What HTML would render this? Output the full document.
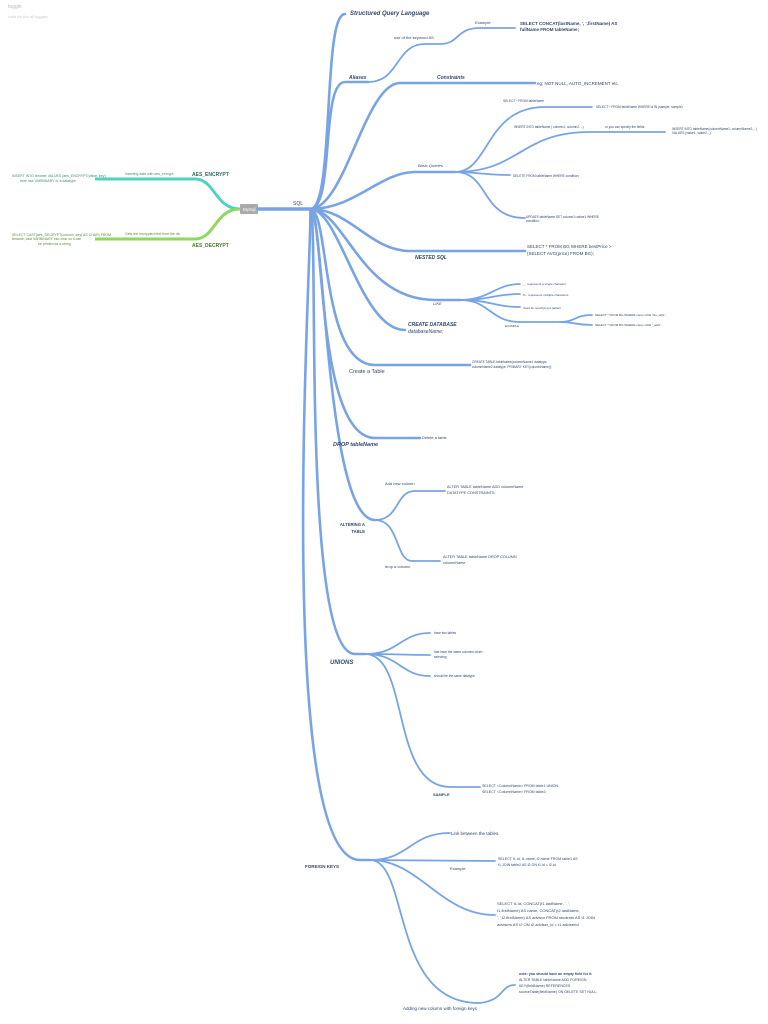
<!DOCTYPE html>
<html><head><meta charset="utf-8"><style>
html,body{margin:0;padding:0;background:#fff;}
svg{display:block;font-family:"Liberation Sans",sans-serif;}
.b{fill:none;stroke:#78a4e6;stroke-linecap:round;}
.t{fill:#34476e;}
.h{font-weight:bold;font-style:italic;}
</style></head><body>
<svg width="768" height="1024" viewBox="0 0 768 1024" xmlns="http://www.w3.org/2000/svg">
<text x="8" y="8" font-size="5" fill="#bbb">toggle</text>
<text x="8" y="18" font-size="4" fill="#ccc">Hold for the all toggles</text>

<!-- left green branches -->
<path d="M240 209 C215 209 215 179 195 179 L95 179" fill="none" stroke="#4fd3c0" stroke-width="3"/>
<path d="M240 209 C215 209 215 239 195 239 L95 239" fill="none" stroke="#8fd760" stroke-width="3"/>
<text x="192" y="176" font-size="5" font-weight="bold" fill="#2f6b5c">AES_ENCRYPT</text>
<text x="125" y="175" font-size="3.5" fill="#3f8a7a">Inserting data with aes_encrypt</text>
<text x="12" y="177" font-size="3.5" fill="#3f8a7a">INSERT INTO tbname VALUES (aes_ENCRYPT(value, key)</text>
<text x="20" y="182" font-size="3.5" fill="#3f8a7a">here use VARBINARY or a datatype</text>
<text x="192" y="247" font-size="5" font-weight="bold" fill="#4a7a2c">AES_DECRYPT</text>
<text x="125" y="235" font-size="3.5" fill="#5c8a3a">Gets the encrypted text from the db</text>
<text x="12" y="236" font-size="3.5" fill="#5c8a3a">SELECT CAST(aes_DECRYPT(column, key) AS CHAR) FROM</text>
<text x="12" y="240" font-size="3.5" fill="#5c8a3a">tbname; cast VARBINARY into char so it can</text>
<text x="38" y="245" font-size="3.5" fill="#5c8a3a">be printed as a string</text>

<!-- root -->
<rect x="240" y="204" width="18" height="10" fill="#aaa" rx="1"/>
<text x="243" y="211" font-size="4.5" fill="#fff">MySql</text>
<path class="b" d="M258 209 L310 209" stroke-width="3.5"/>
<text x="293" y="205" font-size="5" class="t">SQL</text>

<g class="b" stroke-width="2.6">
<path d="M310 209 C335 209 322 14 345 14"/>
<path d="M310 209 C335 209 320 82 345 82 L368 82"/>
<path d="M310 209 C345 209 365 83 400 83 L535 83"/>
<path d="M310 209 C355 209 380 172 415 172 L455 172"/>
<path d="M310 209 C350 209 370 251 410 251 L525 251"/>
<path d="M310 209 C345 209 360 300 435 300 L460 300"/>
<path d="M310 209 C340 209 360 330 405 330"/>
<path d="M310 209 C330 209 320 365 375 365 L470 365"/>
<path d="M310 209 C325 209 315 438 375 438 L420 438"/>
<path d="M310 209 C325 209 325 520 375 520"/>
<path d="M310 209 C320 209 300 654 355 654 L365 654"/>
<path d="M310 209 C315 209 270 860 360 860 L370 860"/>
</g>
<g class="b" stroke-width="1.8">
<path d="M368 82 C400 82 395 44 425 44 L440 44 C460 44 455 28 480 28 L515 28"/>
<path d="M455 172 C490 172 485 107 545 107 L592 107"/>
<path d="M455 172 C520 172 520 132 590 132 L665 132"/>
<path d="M455 172 C480 172 480 175 510 175"/>
<path d="M455 172 C490 172 480 218 525 218"/>
<path d="M460 300 C490 300 495 284 520 284"/>
<path d="M460 300 C490 300 495 294 520 294"/>
<path d="M460 300 C490 300 495 307 520 307"/>
<path d="M460 300 C490 300 490 322 520 322 L560 322 C575 322 575 315 592 315"/>
<path d="M560 322 C575 322 575 325 592 325"/>
<path d="M375 520 C400 520 395 491 415 491 L445 491"/>
<path d="M375 520 C400 520 395 561 412 561 L440 561"/>
<path d="M365 654 C400 654 400 633 430 633"/>
<path d="M365 654 C400 654 400 655 430 655"/>
<path d="M365 654 C400 654 400 676 430 676"/>
<path d="M365 654 C410 654 390 787 450 787 L480 787"/>
<path d="M370 860 C410 860 410 833 450 833"/>
<path d="M370 860 L495 861"/>
<path d="M370 860 C420 860 440 915 495 915"/>
<path d="M370 860 C410 860 390 1005 480 1003 C505 1000 500 985 515 985"/>
</g>

<g class="t">
<text x="350" y="15" font-size="6" class="h">Structured Query Language</text>
<text x="349" y="79" font-size="5" class="h">Aliases</text>
<text x="394" y="39" font-size="4">use of the keyword AS</text>
<text x="475" y="24" font-size="4">Example</text>
<text x="520" y="25" font-size="4.5" font-weight="bold">SELECT CONCAT(lastName, ', ',firstName) AS</text>
<text x="520" y="31" font-size="4.5" font-weight="bold">fullName FROM tableName;</text>
<text x="437" y="79" font-size="5" class="h">Constraints</text>
<text x="537" y="85" font-size="4.5">eg: NOT NULL, AUTO_INCREMENT etc.</text>
<text x="418" y="167" font-size="4" font-style="italic">Basic Queries</text>
<text x="503" y="102" font-size="3.2">SELECT * FROM tableName</text>
<text x="596" y="108" font-size="3.2">SELECT * FROM tableName WHERE id IN (sample, sample)</text>
<text x="514" y="128" font-size="3.2">INSERT INTO tableName ( column1, column2,...)</text>
<text x="605" y="128" font-size="3.2">or you can specify the fields</text>
<text x="672" y="130" font-size="3.2">INSERT INTO tableName(columnName1, columnName2,...)</text>
<text x="672" y="134" font-size="3.2">VALUES (value1, value2...);</text>
<text x="513" y="177" font-size="3.2">DELETE FROM tableName WHERE condition;</text>
<text x="526" y="218" font-size="3.2">UPDATE tableName SET column1=value1 WHERE</text>
<text x="526" y="222" font-size="3.2">condition;</text>
<text x="415" y="259" font-size="5" class="h">NESTED SQL</text>
<text x="527" y="248" font-size="4.5">SELECT * FROM BG WHERE bestPrice &gt;</text>
<text x="527" y="255" font-size="4.5">(SELECT AVG(price) FROM BG);</text>
<text x="433" y="305" font-size="4" font-style="italic">LIKE</text>
<text x="523" y="285" font-size="3">_ : represents a single character</text>
<text x="523" y="296" font-size="3">% : represents multiple characters</text>
<text x="523" y="309" font-size="3">Used for specifying a pattern</text>
<text x="505" y="327" font-size="3">EXAMPLE</text>
<text x="595" y="316" font-size="3">SELECT * FROM BG WHERE name LIKE '%s_sa%';</text>
<text x="595" y="326" font-size="3">SELECT * FROM BG WHERE name LIKE '_aa%';</text>
<text x="408" y="326" font-size="5" class="h">CREATE DATABASE</text>
<text x="408" y="333" font-size="5" font-style="italic">databaseName;</text>
<text x="472" y="363" font-size="3.2">CREATE TABLE tableName(columnName1 datatype,</text>
<text x="472" y="368" font-size="3.2">columnName2 datatype, PRIMARY KEY(columnName));</text>
<text x="349" y="373" font-size="5.5">Create a Table</text>
<text x="422" y="439" font-size="4">Delete a table</text>
<text x="333" y="446" font-size="5.5" class="h">DROP tableName</text>
<text x="385" y="485" font-size="4">Add new column</text>
<text x="447" y="488" font-size="3.8">ALTER TABLE tableName ADD columnName</text>
<text x="447" y="494" font-size="3.8">DATATYPE CONSTRAINTS;</text>
<text x="365" y="526" font-size="4.2" font-weight="bold" text-anchor="end">ALTERING A</text>
<text x="365" y="533" font-size="4.2" font-weight="bold" text-anchor="end">TABLE</text>
<text x="443" y="558" font-size="3.8">ALTER TABLE tableName DROP COLUMN</text>
<text x="443" y="564" font-size="3.8">columnName</text>
<text x="385" y="568" font-size="4">drop a column</text>
<text x="330" y="664" font-size="6" class="h">UNIONS</text>
<text x="434" y="634" font-size="3.2">have two tables</text>
<text x="434" y="653" font-size="3.2">that have the same columns when</text>
<text x="434" y="658" font-size="3.2">selecting</text>
<text x="434" y="677" font-size="3.2">should be the same datatype</text>
<text x="433" y="796" font-size="4" font-weight="bold">SAMPLE</text>
<text x="482" y="787" font-size="3.6">SELECT &lt;ColumnName&gt; FROM table1 UNION</text>
<text x="482" y="793" font-size="3.6">SELECT &lt;ColumnName&gt; FROM table2;</text>
<text x="305" y="868" font-size="4.5" font-weight="bold">FOREIGN KEYS</text>
<text x="451" y="835" font-size="4.5">Link between the tables.</text>
<text x="498" y="860" font-size="3.6">SELECT t1.id, t1.name, t2.name FROM table1 AS</text>
<text x="498" y="866" font-size="3.6">t1 JOIN table2 AS t2 ON t1.id = t2.id</text>
<text x="450" y="870" font-size="4">Example</text>
<text x="497" y="905" font-size="4">SELECT t1.id, CONCAT(t1.lastName, ', ',</text>
<text x="497" y="912" font-size="4">t1.firstName) AS name, CONCAT(t2.lastName,</text>
<text x="497" y="919" font-size="4">', ',t2.firstName) AS advisor FROM students AS t1 JOIN</text>
<text x="497" y="926" font-size="4">advisers AS t2 ON t2.adviser_id = t1.adviserId</text>
<text x="519" y="975" font-size="3.6" font-weight="bold">note: you should have an empty field for it.</text>
<text x="519" y="981" font-size="3.6">ALTER TABLE tableName ADD FOREIGN</text>
<text x="519" y="987" font-size="3.6">KEY(fieldName) REFERENCES</text>
<text x="519" y="993" font-size="3.6">sourceTable(fieldName) ON DELETE SET NULL;</text>
<text x="403" y="1010" font-size="4.5">Adding new column with foreign keys</text>
</g>
</svg>
</body></html>
